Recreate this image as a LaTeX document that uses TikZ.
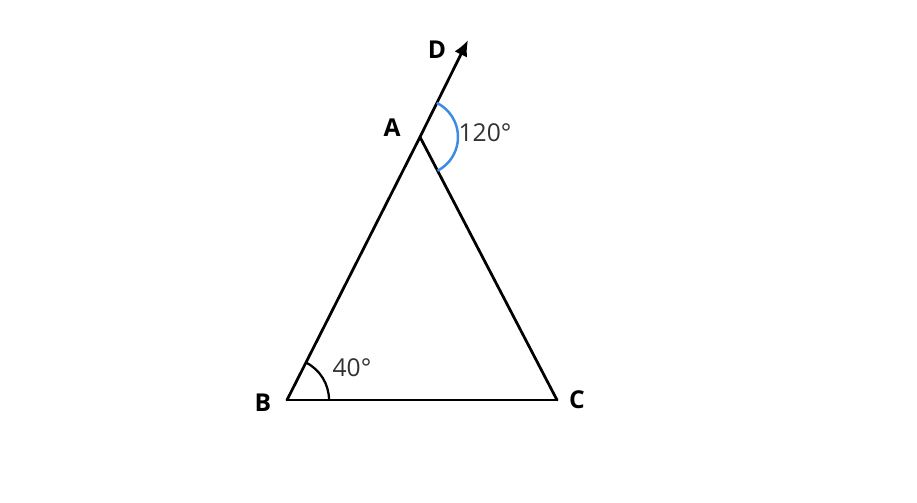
\documentclass[tikz,border=0pt]{standalone}
\usepackage{fontspec}
\setmainfont{Open Sans}
\usetikzlibrary{arrows.meta}
\definecolor{arcblue}{RGB}{60,140,230}
\definecolor{textgray}{RGB}{50,50,50}
\begin{document}
\begin{tikzpicture}
                    \useasboundingbox (0.000000,0.000000) rectangle (18.340000,10.040000);
                    \tikzset{edge/.style={line width=0.055cm, line cap=round}, pt/.style={font=\bfseries\fontsize{14}{16}\selectfont}, ang/.style={font=\fontsize{14}{16}\selectfont, text=textgray}}

                    % Points of the triangle
                    \coordinate (B) at (5.740000,2.040000);
                    \coordinate (C) at (11.140000,2.040000);
                    \coordinate (A) at (8.400000,7.300000);
                    \coordinate (D) at (9.360000,9.240000);

                    % Drawing triangle A B C
                    \draw [edge] (B) -- (C);%
                    \draw [edge] (B) -- (A);%
                    \draw [edge] (A) -- (C);%

                    % Drawing ray A D
                    \draw [edge, -{Latex[length=0.32cm, width=0.28cm]}] (A) -- (D);%

                    % Drawing angle at A
                    \draw [line width=0.05cm, arcblue] (A) ++(63.7:0.76) arc (63.7:-62.5:0.76);%

                    % Drawing angle at B
                    \draw [line width=0.045cm] (B) ++(0:0.84) arc (0:63.2:0.84);%

                    % Marking point D
                    \node [pt] (lblD) at (8.740000,9.040000) {D};%

                    % Marking point A
                    \node [pt] (lblA) at (7.840000,7.480000) {A};%

                    % Marking point B
                    \node [pt] (lblB) at (5.260000,1.980000) {B};%

                    % Marking point C
                    \node [pt] (lblC) at (11.540000,2.040000) {C};%

                    % Marking angle 120
                    \node [ang] (ang120) at (9.700000,7.380000) {120°};%

                    % Marking angle 40
                    \node [ang] (ang40) at (7.040000,2.680000) {40°};%
                \end{tikzpicture}
\end{document}
